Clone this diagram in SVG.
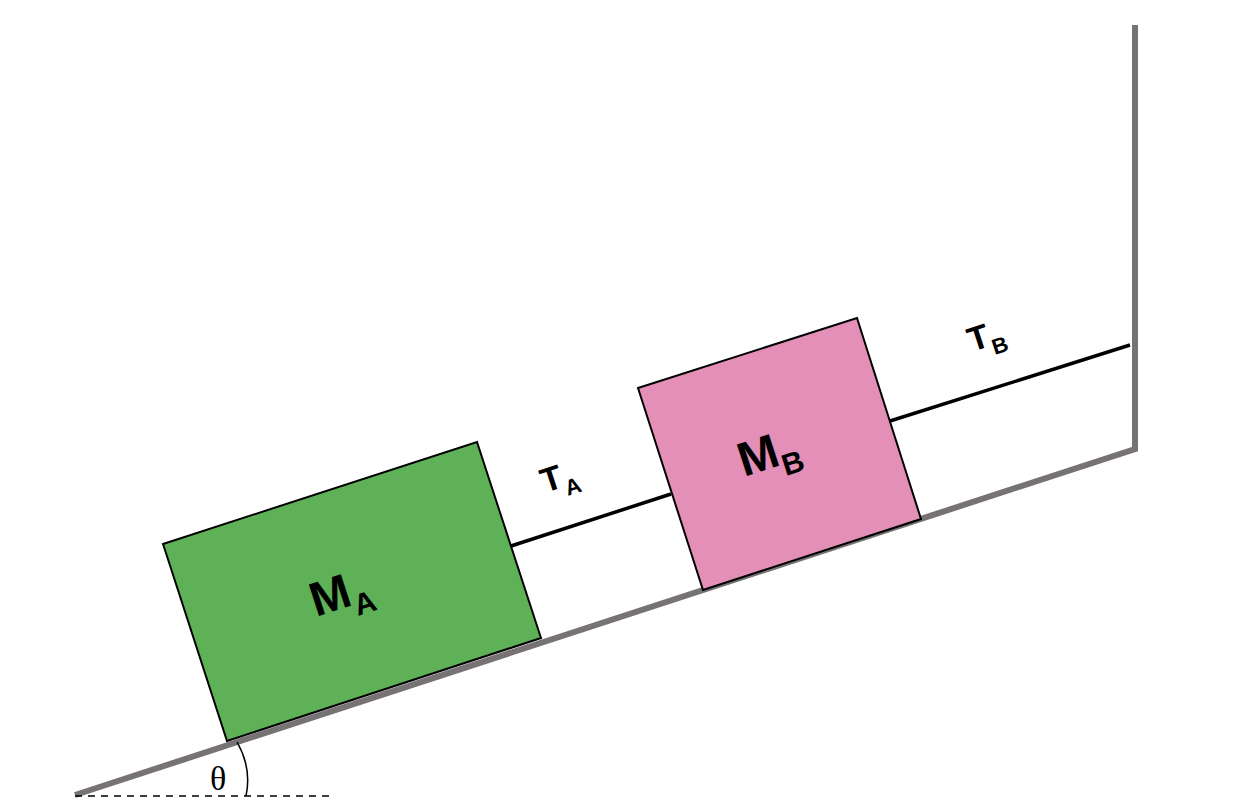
<svg xmlns="http://www.w3.org/2000/svg" width="1233" height="802" viewBox="0 0 1233 802">
<style>
.blk{stroke:#000;stroke-width:2}
.lbl{font-family:"Liberation Sans",Arial,sans-serif;font-weight:bold;fill:#000}
.rope{stroke:#000;stroke-width:3.5;fill:none}
.surf{stroke:#777375;stroke-width:6;fill:none}
</style>
<rect width="1233" height="802" fill="#fff"/>
<g id="surface">
<polyline class="surf" points="75,795 1135,449 1135,25"/>
<line x1="75" y1="796" x2="330" y2="796" stroke="#000" stroke-width="1.5" stroke-dasharray="7,6"/>
<path d="M237,742 Q252,768 246,796" stroke="#000" stroke-width="1.5" fill="none"/>
<text x="210" y="790" font-family="Liberation Serif,serif" font-size="34">θ</text>
</g>
<g id="connectors">
<line class="rope" x1="511" y1="546" x2="671" y2="494"/>
<line class="rope" x1="890" y1="421" x2="1130" y2="345"/>
<text class="lbl" transform="translate(545,493) rotate(-18)" font-size="34">T<tspan font-size="22" dy="10">A</tspan></text>
<text class="lbl" transform="translate(972,352) rotate(-18)" font-size="34">T<tspan font-size="22" dy="10">B</tspan></text>
</g>
<g id="blockA">
<polygon class="blk" fill="#5fb157" points="163,544 477,442 541,638 227,741"/>
<text class="lbl" transform="translate(316,617) rotate(-18)" font-size="48">M<tspan font-size="30" dy="12">A</tspan></text>
</g>
<g id="blockB">
<polygon class="blk" fill="#e38fb8" points="638,388 857,318 921,519 703,590"/>
<text class="lbl" transform="translate(744,477) rotate(-18)" font-size="48">M<tspan font-size="30" dy="12">B</tspan></text>
</g>
</svg>
